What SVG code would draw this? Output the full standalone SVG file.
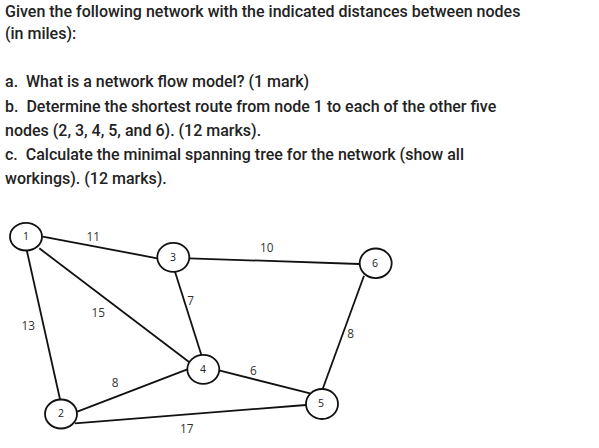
<svg xmlns="http://www.w3.org/2000/svg" width="599" height="448" viewBox="0 0 599 448">
<style>
.q{font-family:Roboto,"Liberation Sans",sans-serif;font-size:16px;font-weight:500;fill:#222;white-space:pre}
.n{fill:#fff;stroke:#111;stroke-width:1.8}
.nl{font-family:"Open Sans","Liberation Sans",sans-serif;font-size:10.5px;fill:#222;text-anchor:middle;dominant-baseline:central}
.e{stroke:#111;stroke-width:1.8;fill:none}
.el{font-family:"Open Sans","Liberation Sans",sans-serif;font-size:11.8px;fill:#333;text-anchor:middle;dominant-baseline:central}
</style>
<rect width="599" height="448" fill="#fff"/>
<g id="question">
<text class="q" x="5" y="17">Given the following network with the indicated distances between nodes</text>
<text class="q" x="5" y="39">(in miles):</text>
<text class="q" x="5" y="87" xml:space="preserve">a.  What is a network flow model? (1 mark)</text>
<text class="q" x="5" y="112" xml:space="preserve">b.  Determine the shortest route from node 1 to each of the other five</text>
<text class="q" x="5" y="136">nodes (2, 3, 4, 5, and 6). (12 marks).</text>
<text class="q" x="5" y="160" xml:space="preserve">c.  Calculate the minimal spanning tree for the network (show all</text>
<text class="q" x="5" y="184">workings). (12 marks).</text>
</g>
<g id="connectors">
<line class="e" x1="42.7" y1="236.7" x2="157.3" y2="258.3"/>
<line class="e" x1="189.3" y1="258.3" x2="359.3" y2="264"/>
<line class="e" x1="26.7" y1="250" x2="60" y2="399.3"/>
<line class="e" x1="39.3" y1="248.3" x2="191.7" y2="364"/>
<line class="e" x1="175" y1="271.7" x2="201.7" y2="356"/>
<line class="e" x1="77.3" y1="411.7" x2="187.3" y2="369.3"/>
<line class="e" x1="75" y1="423.3" x2="306" y2="405"/>
<line class="e" x1="220" y1="370.7" x2="310" y2="393.3"/>
<line class="e" x1="322.3" y1="390" x2="364" y2="275.7"/>
<text class="el" x="93.3" y="236">11</text>
<text class="el" x="266.7" y="246.7">10</text>
<text class="el" x="190.7" y="300">7</text>
<text class="el" x="98.3" y="311.7">15</text>
<text class="el" x="28.3" y="325">13</text>
<text class="el" x="115" y="382.3">8</text>
<text class="el" x="253.3" y="370">6</text>
<text class="el" x="186.7" y="427.7">17</text>
<text class="el" x="350.7" y="332.7">8</text>
</g>
<g id="node1"><ellipse class="n" cx="26" cy="236.7" rx="16" ry="13.8"/><text class="nl" x="26" y="236">1</text></g>
<g id="node2"><ellipse class="n" cx="61" cy="414" rx="16" ry="14.5"/><text class="nl" x="61" y="413">2</text></g>
<g id="node3"><ellipse class="n" cx="173.3" cy="257.3" rx="16" ry="14.5"/><text class="nl" x="173" y="256.5">3</text></g>
<g id="node4"><ellipse class="n" cx="203.3" cy="369.3" rx="16" ry="14.5"/><text class="nl" x="203" y="368.5">4</text></g>
<g id="node5"><ellipse class="n" cx="322" cy="404" rx="16" ry="15"/><text class="nl" x="321" y="403">5</text></g>
<g id="node6"><ellipse class="n" cx="375.7" cy="263.3" rx="16" ry="14.8"/><text class="nl" x="375" y="262.5">6</text></g>
</svg>
